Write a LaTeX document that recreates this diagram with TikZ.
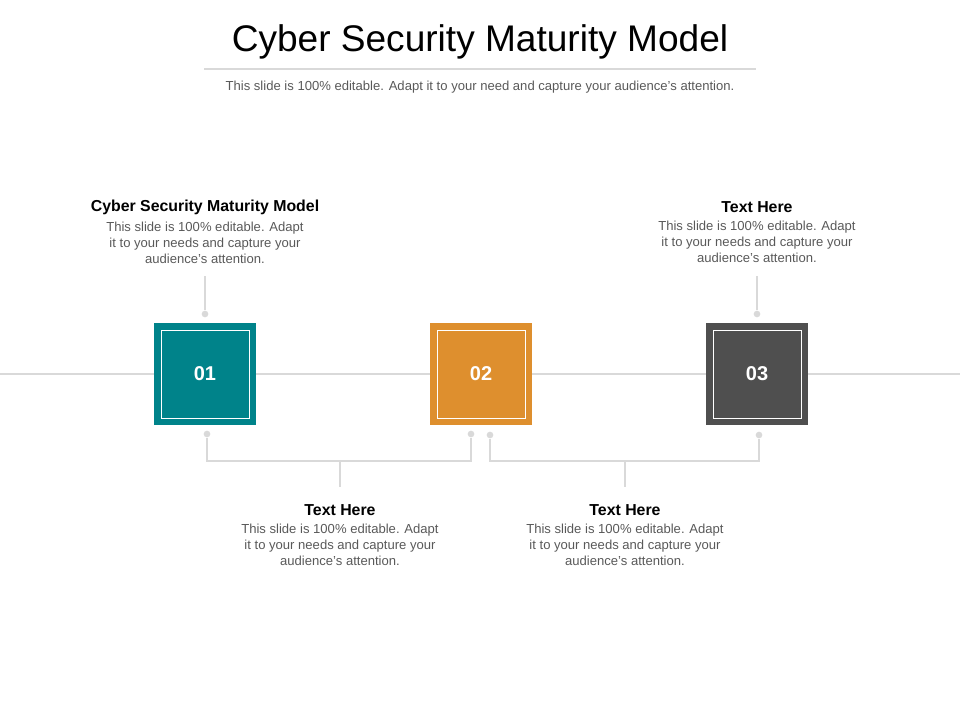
\documentclass[tikz,border=0pt]{standalone}
\usepackage{fontspec}
\setmainfont{Liberation Sans}
\usetikzlibrary{positioning}
\definecolor{tealc}{HTML}{00838A}
\definecolor{orangec}{HTML}{DE8F2E}
\definecolor{grayc}{HTML}{4F4F4F}
\definecolor{linec}{HTML}{D9D9D9}
\definecolor{textc}{HTML}{595959}
\tikzset{
  stepsq/.style={minimum size=76.5pt, inner sep=0pt, text=white, font=\fontsize{15}{18}\selectfont\bfseries},
  inner/.style={draw=white, line width=0.6pt, minimum size=66pt, inner sep=0pt},
  heading/.style={font=\fontsize{11.9}{13}\selectfont\bfseries, text=black},
  body/.style={font=\fontsize{9.8}{12}\selectfont, text=textc, align=center},
  conn/.style={draw=linec, line width=0.8pt},
  dot/.style={circle, fill=linec, minimum size=5pt, inner sep=0pt}
}
\begin{document}
\begin{tikzpicture}[x=0.75pt,y=-0.75pt]
  \useasboundingbox (0,0) rectangle (960,720);
  % title
  \node (title) at (480,42) {\fontsize{27.8}{32}\selectfont Cyber Security Maturity Model};
  \coordinate (tl) at (204,69);
  \coordinate (tr) at (756,69);
  \draw[conn] (tl) -- (tr);
  \node[body] (sub) at (480,87) {This slide is 100\% editable. Adapt it to your need and capture your audience’s attention.};
  % axis
  \coordinate (al) at (0,374);
  \coordinate (ar) at (960,374);
  \draw[conn] (al) -- (ar);
  % boxes
  \node[stepsq, fill=tealc]   (s1) at (205,374) {01};
  \node[stepsq, fill=orangec] (s2) at (481,374) {02};
  \node[stepsq, fill=grayc]   (s3) at (757,374) {03};
  \foreach \s in {s1,s2,s3} \node[inner] at (\s) {};
  % top texts
  \node[heading] (h1) at (205,207) {Cyber Security Maturity Model};
  \node[body, below=-1pt of h1] (b1) {This slide is 100\% editable. Adapt\\it to your needs and capture your\\audience's attention.};
  \node[heading] (h3) at (757,207) {Text Here};
  \node[body, below=-1pt of h3] (b3) {This slide is 100\% editable. Adapt\\it to your needs and capture your\\audience's attention.};
  \node[dot] (d1) at (205,314) {};
  \node[dot] (d3) at (757,314) {};
  \draw[conn] (d1) -- (205,276);
  \draw[conn] (d3) -- (757,276);
  % bottom texts
  \node[heading] (h2) at (340,510) {Text Here};
  \node[body, below=-1pt of h2] (b2) {This slide is 100\% editable. Adapt\\it to your needs and capture your\\audience's attention.};
  \node[heading] (h4) at (625,510) {Text Here};
  \node[body, below=-1pt of h4] (b4) {This slide is 100\% editable. Adapt\\it to your needs and capture your\\audience's attention.};
  \node[dot] (d2a) at (207,434) {};
  \node[dot] (d2b) at (471,434) {};
  \node[dot] (d4a) at (490,435) {};
  \node[dot] (d4b) at (759,435) {};
  \draw[conn] (d2a) |- (340,461) -| (d2b);
  \draw[conn] (340,461) -- (340,487);
  \draw[conn] (d4a) |- (625,461) -| (d4b);
  \draw[conn] (625,461) -- (625,487);
\end{tikzpicture}
\end{document}
